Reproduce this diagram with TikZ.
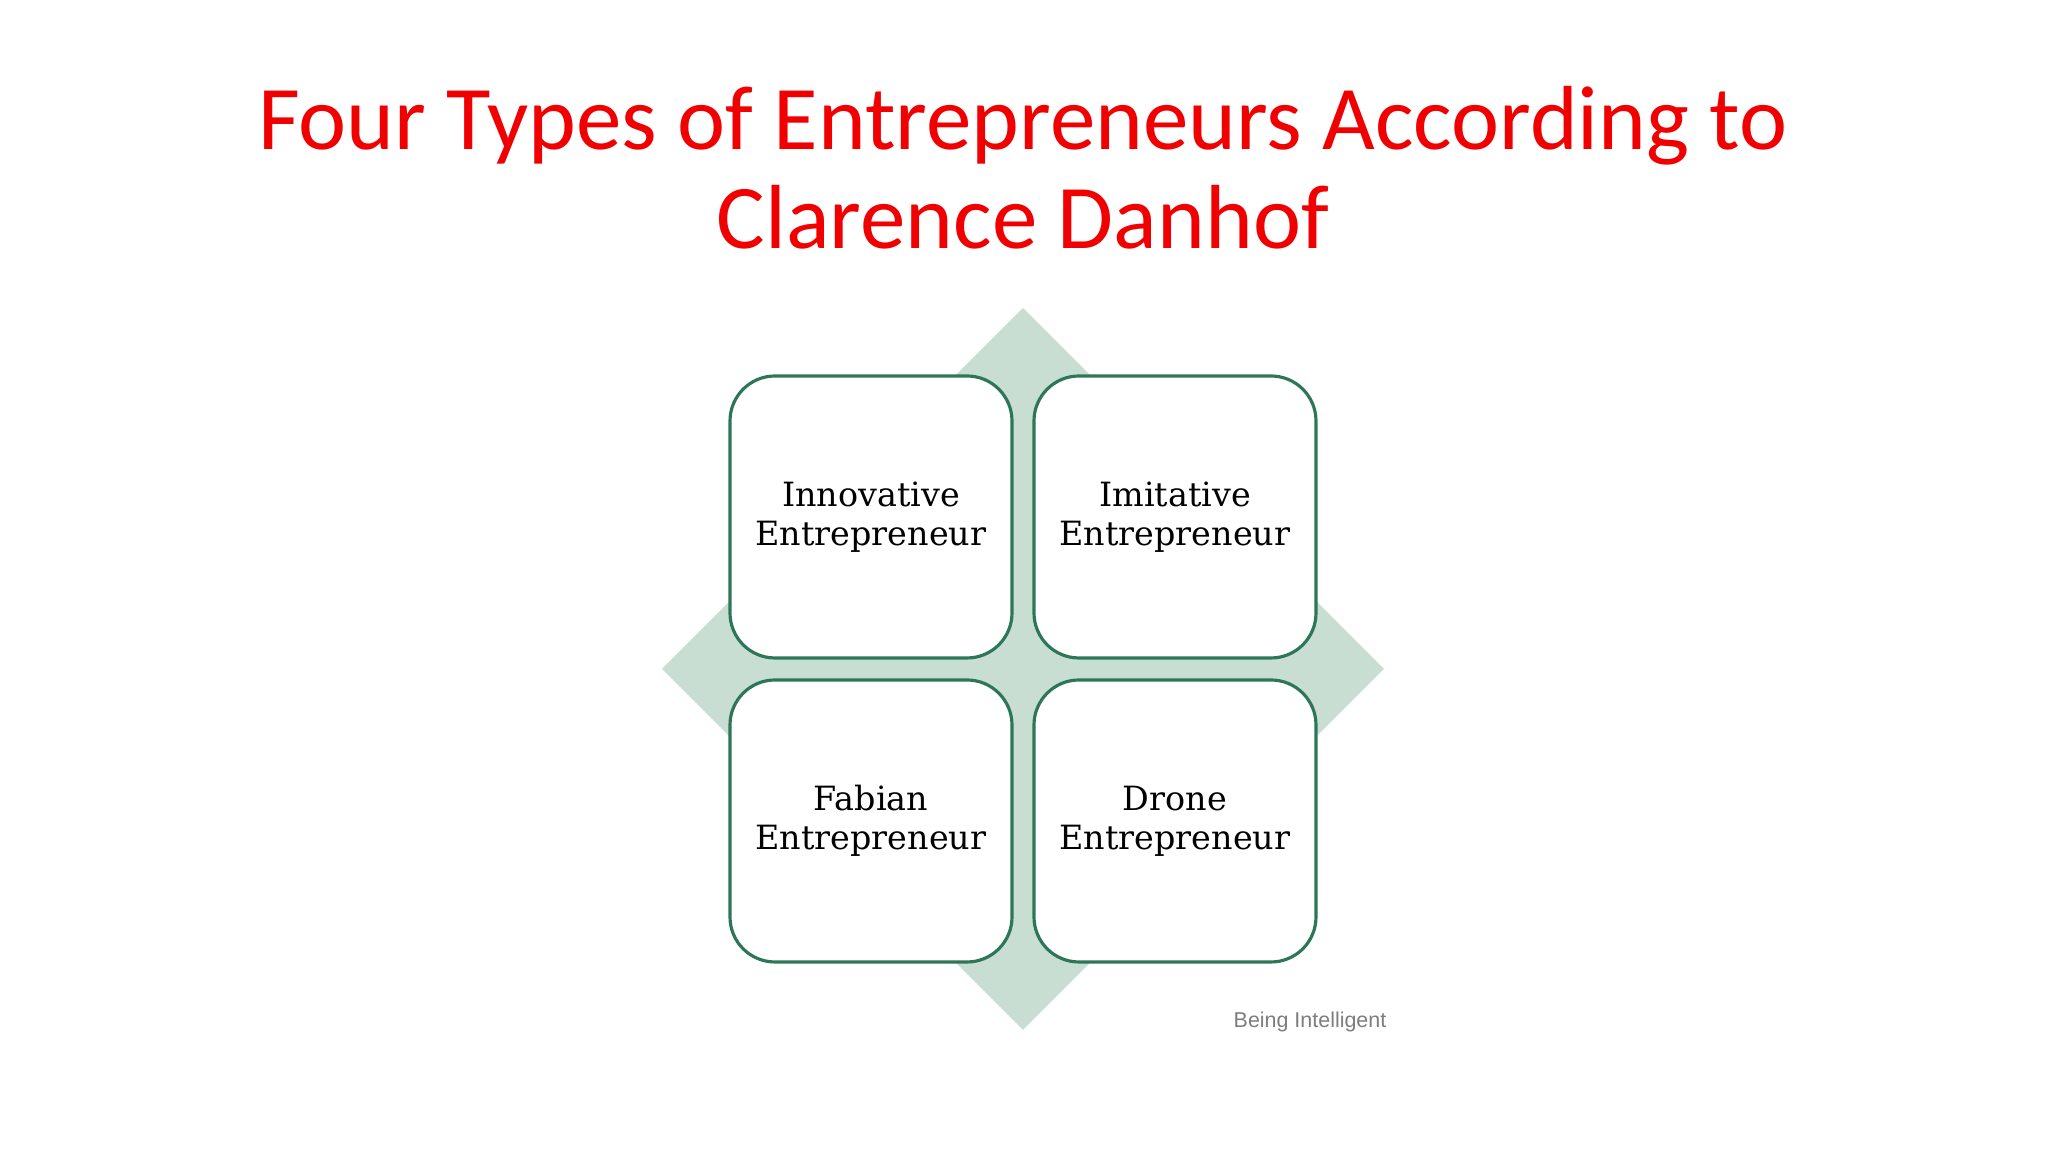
\documentclass[tikz,border=0pt]{standalone}
\usepackage{fontspec}
\setmainfont{Carlito}
\newfontfamily\boxfont{DejaVu Serif}
\newfontfamily\markfont{Liberation Sans}
\usetikzlibrary{positioning}
\definecolor{titlered}{RGB}{240,0,0}
\definecolor{diamondgreen}{RGB}{200,222,210}
\definecolor{boxgreen}{RGB}{46,118,88}
\definecolor{markgray}{RGB}{125,125,125}
\tikzset{
  typebox/.style={draw=boxgreen,line width=0.9pt,fill=white,rounded corners=0.45cm,
    minimum width=2.82cm,minimum height=2.82cm,align=center,
    font=\boxfont\fontsize{9.5}{11.1}\selectfont},
  titleline/.style={anchor=base,text=titlered,font=\fontsize{25.9}{28}\selectfont}
}

\begin{document}
\begin{tikzpicture}
\useasboundingbox (0,0) rectangle (20.48,11.52);
% \draw[help lines] (0,0) grid (20,11);
\node (t1) [titleline] at (10.23,10.02) {Four Types of Entrepreneurs According to};
\node (t2) [titleline] at (10.23,9.03) {Clarence Danhof};
%
\coordinate (mid) at (10.23,4.83);
\fill[diamondgreen] ([yshift=3.61cm]mid) -- ([xshift=3.61cm]mid) -- ([yshift=-3.61cm]mid) -- ([xshift=-3.61cm]mid) -- cycle;
%
\node (inno) [typebox] at (8.71,6.35) {Innovative\\Entrepreneur};
\node (imit) [typebox] at (11.75,6.35) {Imitative\\Entrepreneur};
\node (fab) [typebox] at (8.71,3.31) {Fabian\\Entrepreneur};
\node (drone) [typebox] at (11.75,3.31) {Drone\\Entrepreneur};
%
\node (mark) [anchor=base east,text=markgray,font=\markfont\fontsize{6.1}{7}\selectfont,inner sep=0pt] at (13.87,1.24) {Being Intelligent};
\end{tikzpicture}
\end{document}
